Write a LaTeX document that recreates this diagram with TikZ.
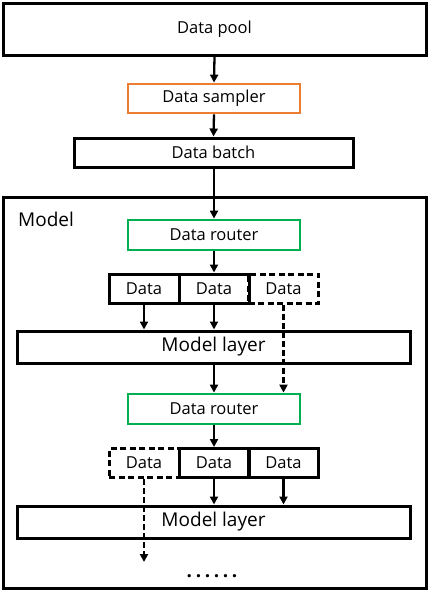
\documentclass[tikz,border=0pt]{standalone}
\usepackage{fontspec}
\setmainfont{Open Sans}
\usetikzlibrary{arrows.meta,calc}
\definecolor{sampcol}{RGB}{237,125,49}
\definecolor{routcol}{RGB}{0,176,80}
\begin{document}
\begin{tikzpicture}[x=1pt,y=-1pt,
  box/.style={draw=black,line width=3pt,rectangle,inner sep=0pt,font=\fontsize{16.5}{18}\selectfont},
  bigbox/.style={box,font=\fontsize{19}{21}\selectfont},
  sampbox/.style={box,draw=sampcol,line width=2.8pt},
  routbox/.style={box,draw=routcol,line width=2.8pt},
  databox/.style={box,minimum width=70pt,minimum height=29pt},
  dashbox/.style={databox,dash pattern=on 6pt off 3.5pt},
  arr/.style={line width=2.3pt,-{Triangle[length=8pt,width=8pt]}},
  darr/.style={arr,dash pattern=on 6pt off 3pt}]
\useasboundingbox (0,0) rectangle (428,606);
\fill[white] (0,0) rectangle (428,606);
% model container
\node[box,minimum width=423pt,minimum height=391pt] (model) at (214.5,392.5) {};
\node[font=\fontsize{19}{21}\selectfont,anchor=west,inner sep=0pt] (mlabel) at (18,219) {Model};
% top chain
\node[box,minimum width=423pt,minimum height=52pt] (pool) at (214.5,29) {Data pool};
\node[sampbox,minimum width=172pt,minimum height=29pt] (samp) at (214,98.5) {Data sampler};
\node[box,minimum width=279pt,minimum height=29pt] (batch) at (213.5,152.5) {Data batch};
% first stage
\node[routbox,minimum width=172pt,minimum height=30pt] (r1) at (214,235) {Data router};
\node[dashbox] (d13) at (283.5,288.5) {Data};
\node[databox] (d11) at (144,288.5) {Data};
\node[databox] (d12) at (214,288.5) {Data};
\node[bigbox,minimum width=393pt,minimum height=32pt] (l1) at (213.5,347) {Model layer};
% second stage
\node[routbox,minimum width=172pt,minimum height=30pt] (r2) at (214,409) {Data router};
\node[dashbox] (d21) at (144,463) {Data};
\node[databox] (d22) at (214,463) {Data};
\node[databox] (d23) at (283.5,463) {Data};
\node[bigbox,minimum width=393pt,minimum height=32pt] (l2) at (213.5,522) {Model layer};
\coordinate (dend) at (144,562);
\node[font=\fontsize{19}{21}\bfseries\selectfont,inner sep=0pt,anchor=base] (dots) at (212,577) {.\hspace{3.6pt}.\hspace{3.6pt}.\hspace{3.6pt}.\hspace{3.6pt}.\hspace{3.6pt}.};
% arrows
\draw[arr] (pool.south) -- (samp.north);
\draw[arr] (samp.south) -- (batch.south |- batch.north);
\draw[arr] (batch.south -| r1.north) -- (r1.north);
\draw[arr] (r1.south) -- (d12.north);
\draw[arr] (d11.south) -- (d11.south |- l1.north);
\draw[arr] (d12.south) -- (d12.south |- l1.north);
\draw[darr] (d13.south) -- (d13.south |- r2.north);
\draw[arr] (l1.south -| r2.north) -- (r2.north);
\draw[arr] (r2.south) -- (d22.north);
\draw[arr] (d22.south) -- (d22.south |- l2.north);
\draw[arr] (d23.south) -- (d23.south |- l2.north);
\draw[darr] (d21.south) -- (dend);
\end{tikzpicture}
\end{document}
